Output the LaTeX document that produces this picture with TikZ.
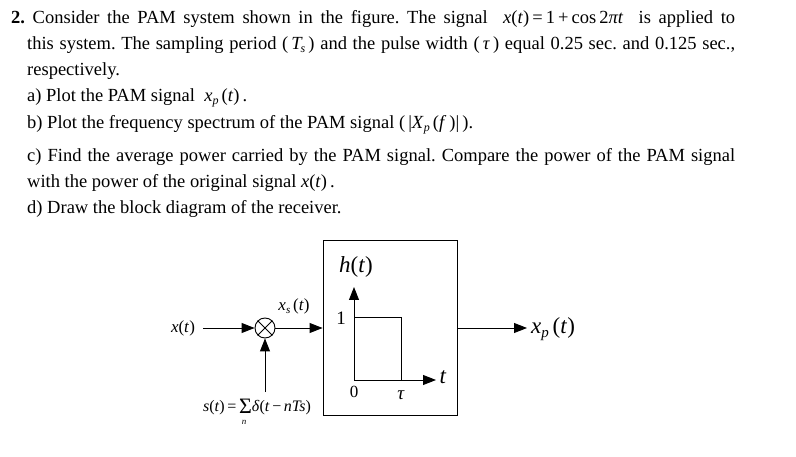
\documentclass[tikz,border=0pt]{standalone}
\usepackage{fontspec}
\setmainfont{Liberation Serif}
\usetikzlibrary{arrows.meta}
\newcommand\mi[1]{\textit{#1}}
\begin{document}
\frenchspacing
\begin{tikzpicture}[x=1pt,y=-1pt,
  txt/.style={anchor=base west,inner sep=0pt,font=\fontsize{18.5}{20}\selectfont},
  lbl/.style={inner sep=0pt,font=\fontsize{17}{18}\selectfont},
  conn/.style={line width=0.9pt,-{Triangle[length=13pt,width=10pt]}},
  ln/.style={line width=0.9pt}]
\useasboundingbox (0,0) rectangle (796,457);
% text
\node[txt] (l1) at (11,24) {\hbox to 724pt{\textbf{2.} Consider the PAM system shown in the figure. The signal \ \mi{x}(\mi{t})\,=\,1\,+\,cos\,2\mi{πt}\ \ is applied to}};
\node[txt] (l2) at (27,50) {\hbox to 708pt{this system. The sampling period (\,\mi{T\kern-1pt\raisebox{-3pt}{\fontsize{12}{12}\selectfont s}}\,) and the pulse width (\,\mi{τ}\,) equal 0.25 sec. and 0.125 sec.,}};
\node[txt] (l3) at (27,76) {respectively.};
\node[txt] (la) at (27,102) {a) Plot the PAM signal \ \mi{x}\raisebox{-3pt}{\fontsize{12}{12}\selectfont\mi{p}}\,(\mi{t})\,.};
\node[txt] (lb) at (27,129) {b) Plot the frequency spectrum of the PAM signal (\,|\mi{X}\raisebox{-3pt}{\fontsize{12}{12}\selectfont\mi{p}}\,(\mi{f}\,)|\,).};
\node[txt] (lc) at (27,162) {\hbox to 708pt{c) Find the average power carried by the PAM signal. Compare the power of the PAM signal}};
\node[txt] (lc2) at (27,188) {with the power of the original signal \mi{x}(\mi{t})\,.};
\node[txt] (ld) at (27,214) {d) Draw the block diagram of the receiver.};
% diagram
\node[lbl] (x) at (183,328) {\mi{x}(\mi{t})};
\node[draw,circle,ln,minimum size=20pt,inner sep=0pt] (m) at (265,328) {};
\draw[ln] (m.45)--(m.225) (m.135)--(m.315);
\node[lbl,anchor=north,font=\fontsize{16}{18}\selectfont] (s) at (257,399) {\mi{s}(\mi{t})\,=\,\raisebox{-2pt}{\fontsize{22}{22}\selectfont Σ}\raisebox{-13pt}{\rlap{\kern-10pt\fontsize{9}{9}\selectfont\mi{n}}}\mi{δ}(\mi{t}\,−\,\mi{nTs})};
\coordinate (sfoot) at (265,392);
\node[draw,ln,minimum width=134pt,minimum height=175pt,inner sep=0pt] (h) at (390,327.5) {};
\node[lbl] (xs) at (294,306) {\mi{x}\raisebox{-3pt}{\fontsize{11}{11}\selectfont\mi{s}}\,(\mi{t})};
\draw[conn] (x.east)++(8,0) -- (m.west);
\draw[conn] (sfoot) -- (m.south);
\draw[conn] (m.east) -- (h.west |- m);
\coordinate (o) at (354,380);
\draw[conn] (o) -- (354,287);
\draw[conn] (o) -- (436,380);
\draw[line width=0.7pt] (354,317) -- (401,317) -- (401,380);
\node[font=\fontsize{23}{24}\selectfont,inner sep=0pt] (ht) at (356,267) {\mi{h}(\mi{t})};
\node[font=\fontsize{19}{20}\selectfont,inner sep=0pt] (one) at (341,318) {1};
\node[lbl] (zero) at (354,392) {0};
\node[font=\fontsize{19}{20}\selectfont,inner sep=0pt] (tau) at (401,395) {\mi{τ}};
\node[font=\fontsize{23}{24}\selectfont,inner sep=0pt] (tt) at (443,377) {\mi{t}};
\node[font=\fontsize{23}{24}\selectfont,inner sep=0pt,anchor=west] (xp) at (531,329) {\mi{x}\raisebox{-4pt}{\fontsize{15}{15}\selectfont\mi{p}}\,(\mi{t})};
\draw[conn] (h.east |- m) -- ([xshift=-4pt]xp.west |- m);
\end{tikzpicture}
\end{document}
